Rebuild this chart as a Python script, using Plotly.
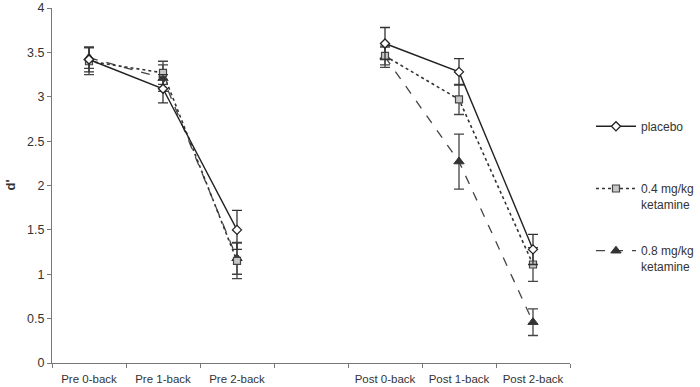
import plotly.graph_objects as go

categories = ["Pre 0-back", "Pre 1-back", "Pre 2-back", " ", "Post 0-back", "Post 1-back", "Post 2-back"]

placebo = [3.42, 3.09, 1.50, None, 3.60, 3.28, 1.28]
placebo_err = [0.14, 0.16, 0.22, None, 0.18, 0.15, 0.17]

ket04 = [3.40, 3.27, 1.15, None, 3.46, 2.97, 1.11]
ket04_err = [0.15, 0.13, 0.20, None, 0.10, 0.17, 0.19]

ket08 = [3.44, 3.21, 1.18, None, 3.45, 2.27, 0.46]
ket08_err = [0.12, 0.15, 0.18, None, 0.12, 0.31, 0.15]

y_ticks = [0, 0.5, 1, 1.5, 2, 2.5, 3, 3.5, 4]

fig = go.Figure()

fig.add_trace(go.Scatter(
    x=categories, y=ket08, name="0.8 mg/kg<br>ketamine", mode="lines+markers",
    line=dict(color="#444444", width=1.3, dash="dash"),
    marker=dict(symbol="triangle-up", size=9, color="#333333", line=dict(color="#333333", width=1)),
    error_y=dict(type="data", array=ket08_err, color="#444444", thickness=1.3, width=5),
    connectgaps=False, legendgroup="c", legendrank=3,
))
fig.add_trace(go.Scatter(
    x=categories, y=ket04, name="0.4 mg/kg<br>ketamine", mode="lines+markers",
    line=dict(color="#333333", width=1.6, dash="dot"),
    marker=dict(symbol="square", size=7, color="#c8c8c8", line=dict(color="#444444", width=1.2)),
    error_y=dict(type="data", array=ket04_err, color="#444444", thickness=1.3, width=5),
    connectgaps=False, legendgroup="b", legendrank=2,
))
fig.add_trace(go.Scatter(
    x=categories, y=placebo, name="placebo<br> ", mode="lines+markers",
    line=dict(color="#222222", width=1.4),
    marker=dict(symbol="diamond", size=7, color="white", line=dict(color="#222222", width=1.3)),
    error_y=dict(type="data", array=placebo_err, color="#333333", thickness=1.3, width=5),
    connectgaps=False, legendgroup="a", legendrank=1,
))

fig.add_annotation(
    text="<b>d'</b>", xref="paper", yref="paper", x=-0.081, y=0.5,
    xanchor="center", yanchor="middle", textangle=-90, showarrow=False,
    font=dict(size=13, color="#333333"),
)

fig.update_layout(
    width=700, height=387,
    margin=dict(l=52, r=130, t=8, b=24, autoexpand=False),
    paper_bgcolor="white", plot_bgcolor="white",
    font=dict(family="Liberation Sans, Arial, sans-serif", size=11, color="#333333"),
    showlegend=True,
    legend=dict(
        x=1.0405, y=0.707, xanchor="left", yanchor="top",
        tracegroupgap=28, valign="top", traceorder="grouped",
        font=dict(size=12, color="#333333"),
        bgcolor="rgba(0,0,0,0)", itemwidth=40,
    ),
    xaxis=dict(
        type="category", categoryorder="array", categoryarray=categories,
        range=[-0.5, 6.5], tickson="boundaries", ticks="outside", ticklen=4,
        tickcolor="#777777", showline=True, linecolor="#777777", linewidth=1,
        showgrid=False, zeroline=False, tickfont=dict(size=11.5), automargin=False,
        ticklabelstandoff=5,
    ),
    yaxis=dict(
        range=[0, 4], tickvals=y_ticks, ticktext=[f"{v:g}" for v in y_ticks],
        ticks="outside", ticklen=4, tickcolor="#777777",
        showline=True, linecolor="#777777", linewidth=1,
        showgrid=False, zeroline=False, tickfont=dict(size=12.5), automargin=False,
        ticklabeloverflow="allow",
    ),
)

fig.write_html("out.html", config={"displayModeBar": False},
               post_script="document.body.style.margin='0';")
